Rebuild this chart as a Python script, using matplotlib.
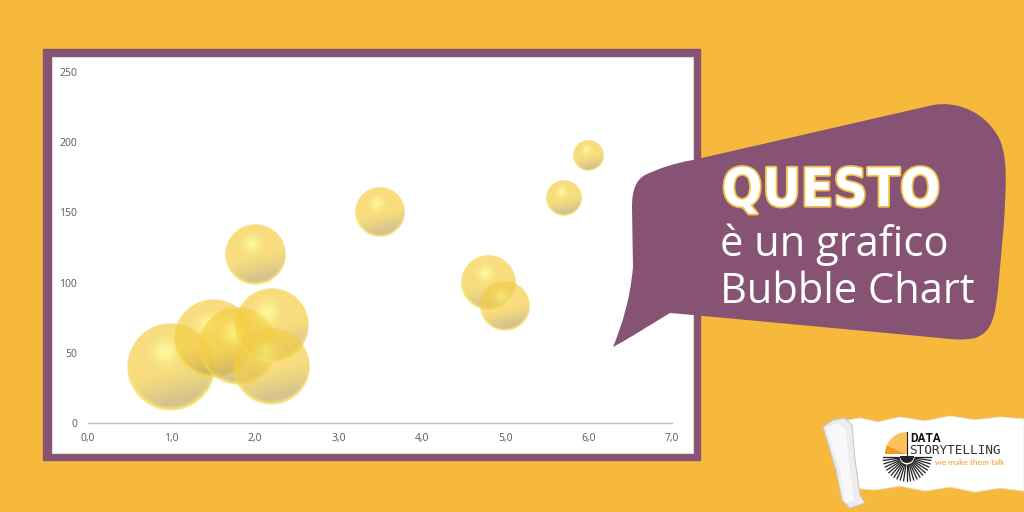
import numpy as np
import matplotlib.pyplot as plt
from matplotlib.patches import Rectangle, PathPatch, Wedge, Polygon
from matplotlib.path import Path
import matplotlib.patheffects as pe

# bubble data
x = [1.0, 1.5, 1.8, 2.2, 2.2, 2.0, 3.5, 4.8, 5.0, 5.7, 6.0]
y = [40, 60, 55, 70, 40, 120, 150, 100, 83, 160, 190]
size = [100, 80, 78, 70, 75, 47, 32, 38, 32, 16, 12]

xticks = [0, 1, 2, 3, 4, 5, 6, 7]
xlabels = ['0,0', '1,0', '2,0', '3,0', '4,0', '5,0', '6,0', '7,0']
yticks = [0, 50, 100, 150, 200, 250]
ylabels = ['0', '50', '100', '150', '200', '250']

bg = '#F6B93C'
purple = '#875374'
R_MAX = 44  # radius in px of the biggest bubble

fig = plt.figure(figsize=(10.24, 5.12), dpi=100)
fig.patch.set_facecolor(bg)

# frame behind the chart
deco = fig.add_axes([0, 0, 1, 1])
deco.set_xlim(0, 1024)
deco.set_ylim(512, 0)
deco.axis('off')
deco.add_patch(Rectangle((43, 49), 657, 411, color=purple))
deco.add_patch(Rectangle((52, 57), 641, 396, facecolor='white', edgecolor='#D9D9D9', lw=0.8))

# chart
ax = fig.add_axes([88/1024, 89/512, 584/1024, 351/512])
ax.patch.set_alpha(0)
for s in ['top', 'right', 'left']:
    ax.spines[s].set_visible(False)
ax.spines['bottom'].set_color('#BFBFBF')
ax.spines['bottom'].set_linewidth(1.0)
ax.set_xticks(xticks)
ax.set_xticklabels(xlabels)
ax.set_yticks(yticks)
ax.set_yticklabels(ylabels)
ax.tick_params(length=0, colors='#595959', labelsize=7.5)
ax.tick_params(axis='x', pad=7.5)
ax.tick_params(axis='y', pad=8)
for lab in ax.get_xticklabels() + ax.get_yticklabels():
    lab.set_family(['Open Sans', 'DejaVu Sans'])
ax.set_xlim(0, 7)
ax.set_ylim(0, 250)

# shaded sphere texture
n = 256
g = np.linspace(-1, 1, n)
u, v = np.meshgrid(g, -g)
d = np.hypot(u, v)
body = np.array([245, 206, 70]) / 255
shade = np.array([196, 168, 92]) / 255
light = np.array([255, 244, 112]) / 255
rimc = np.array([255, 236, 60]) / 255
rim = (np.clip((d - 0.88) / 0.12, 0, 1) * np.clip(-v * 1.4, 0, 1))[..., None]
sh = (np.clip((-v + 0.25*u - 0.05) / 0.75, 0, 1) ** 1.3)[..., None]
col = body*(1 - sh) + shade*sh
spec = np.exp(-((u + 0.13)**2 + (v - 0.35)**2) / 0.07)[..., None]
col = col*(1 - spec) + light*spec
col = col*(1 - rim) + rimc*rim
alpha = 0.7 * np.clip((1 - d) * n / 3, 0, 1)
sphere = np.dstack([np.clip(col, 0, 1), alpha])

inv = ax.transData.inverted()
for xi, yi, si in zip(x, y, size):
    r = R_MAX * np.sqrt(si / max(size))
    cx, cy = ax.transData.transform((xi, yi))
    x0, y0 = inv.transform((cx - r, cy - r))
    x1, y1 = inv.transform((cx + r, cy + r))
    ax.imshow(sphere, extent=(x0, x1, y0, y1), aspect='auto',
              interpolation='bilinear', zorder=3)
ax.set_xlim(0, 7)
ax.set_ylim(0, 250)

# speech bubble and logo on top
top = fig.add_axes([0, 0, 1, 1])
top.set_xlim(0, 1024)
top.set_ylim(512, 0)
top.axis('off')
top.patch.set_alpha(0)

M, Ln, C = Path.MOVETO, Path.LINETO, Path.CURVE4
verts = [
    (613, 347), (622, 325), (630, 300), (633, 267),
    (632, 207),
    (632, 190), (636, 180), (645, 175),
    (660, 168), (675, 163), (693, 160),
    (933, 105),
    (955, 101), (985, 110), (1000, 140),
    (1008, 160), (1006, 185), (1004, 223),
    (998, 290),
    (995, 315), (993, 332), (975, 338),
    (960, 341), (950, 339), (940, 338),
    (693, 315),
    (670, 313),
    (650, 325), (630, 338), (613, 347),
]
codes = [M, C, C, C,
         Ln,
         C, C, C,
         C, C, C,
         Ln,
         C, C, C,
         C, C, C,
         Ln,
         C, C, C,
         C, C, C,
         Ln,
         Ln,
         C, C, C]
top.add_patch(PathPatch(Path(verts, codes), facecolor=purple, edgecolor='none'))

top.text(722, 206, 'QUESTO', color='white', fontsize=38, fontweight='bold',
         fontstretch='condensed', family='DejaVu Sans', ha='left', va='baseline',
         path_effects=[pe.Stroke(linewidth=2.5, foreground='#EFC04A'), pe.Normal()])
top.text(720, 256, 'è un grafico', color='white', fontsize=30,
         family=['Open Sans', 'DejaVu Sans'], ha='left', va='baseline')
top.text(720, 303, 'Bubble Chart', color='white', fontsize=30,
         family=['Open Sans', 'DejaVu Sans'], ha='left', va='baseline')

# torn paper with logo
paper = [(842, 421), (860, 418), (878, 422), (900, 417), (925, 421), (950, 416),
         (975, 420), (1000, 417), (1024, 419), (1024, 491), (1000, 488), (975, 492),
         (950, 487), (925, 491), (900, 486), (875, 490), (852, 488)]
top.add_patch(Polygon(paper, closed=True, facecolor='white', edgecolor='#E6E6E6', lw=0.6))
curl = [(823, 427), (833, 420), (845, 418), (852, 425), (855, 460), (860, 495),
        (865, 503), (850, 508), (842, 500), (836, 470)]
top.add_patch(Polygon(curl, closed=True, facecolor='#EDEDED', edgecolor='#C8C8C8', lw=0.8))
curl2 = [(826, 428), (838, 423), (846, 430), (849, 465), (854, 500), (845, 503), (840, 470)]
top.add_patch(Polygon(curl2, closed=True, facecolor='#F8F8F8', edgecolor='none'))

top.add_patch(Wedge((907, 454), 22, 180, 203, facecolor='#F29A1E', edgecolor='none'))
top.add_patch(Wedge((907, 454), 22, 203, 270, facecolor='#F8C35A', edgecolor='none'))
top.plot([907, 907], [432, 455], color='#222222', lw=0.8)
ang = np.linspace(0, np.pi, 23)
for a in ang:
    top.plot([907 + 8*np.cos(a), 907 + 24*np.cos(a)],
             [457 + 8*np.sin(a), 457 + 24*np.sin(a)], color='#222222', lw=0.9)
top.add_patch(Wedge((907, 456), 7, 0, 180, facecolor='#222222', edgecolor='none'))
top.text(910, 442, 'DATA', fontsize=8.5, fontweight='bold', color='#111111',
         family=['Roboto', 'DejaVu Sans'], ha='left', va='baseline')
top.text(909, 453.5, 'STORYTELLING', fontsize=9.2, color='#333333',
         family='DejaVu Sans Mono', ha='left', va='baseline')
top.text(935, 465, 'we make them talk', fontsize=6, color='#F29A1E',
         family=['Lato', 'DejaVu Sans'], ha='left', va='baseline')

fig.savefig('out.png', dpi=100, facecolor=bg)
